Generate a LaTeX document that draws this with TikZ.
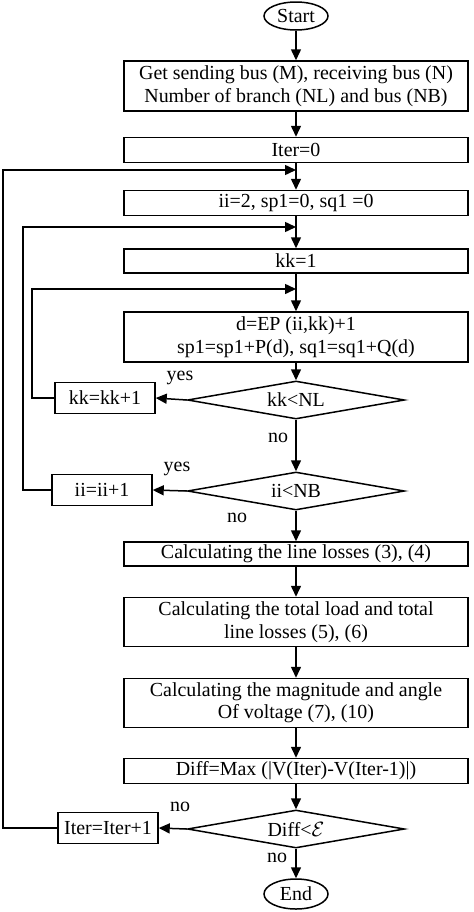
\documentclass[tikz,border=0pt]{standalone}
\usepackage{fontspec}
\setmainfont{Liberation Serif}
\usetikzlibrary{arrows.meta, shapes.geometric}

\begin{document}
\begin{tikzpicture}[x=1bp, y=-1bp, line width=1.5bp,
    font=\fontsize{20}{22.5}\selectfont,
    procbox/.style={draw, rectangle, minimum width=344bp, align=center, inner sep=0pt},
    smallbox/.style={draw, rectangle, minimum width=100bp, minimum height=31bp, inner sep=0pt},
    decision/.style={draw, diamond, aspect=6, minimum width=217bp, minimum height=38bp, inner sep=0pt},
    terminal/.style={draw, ellipse, minimum width=64bp, minimum height=28bp, inner sep=0pt},
    arr/.style={-{Triangle[length=11bp,width=10bp]}}]
    \useasboundingbox (0,0) rectangle (474,912);

    % Main column
    \node[terminal] (start) at (296,16) {Start};
    \node[procbox, minimum height=50bp] (read) at (296,86) {Get sending bus (M), receiving bus (N)\\Number of branch (NL) and bus (NB)};
    \node[procbox, minimum height=25bp] (iter0) at (296,150) {Iter=0};
    \node[procbox, minimum height=25bp] (init) at (296,203) {ii=2, sp1=0, sq1 =0};
    \node[procbox, minimum height=24bp] (kk1) at (296,261) {kk=1};
    \node[procbox, minimum height=50bp] (sum) at (296,337) {d=EP (ii,kk)+1\\sp1=sp1+P(d), sq1=sq1+Q(d)};
    \node[decision] (kkNL) at (296,400) {kk<NL};
    \node[decision] (iiNB) at (296,491) {ii<NB};
    \node[procbox, minimum height=24bp] (loss) at (296,554) {Calculating the line losses (3), (4)};
    \node[procbox, minimum height=49bp] (total) at (296,622) {Calculating the total load and total\\line losses (5), (6)};
    \node[procbox, minimum height=49bp] (volt) at (296,703) {Calculating the magnitude and angle\\Of voltage (7), (10)};
    \node[procbox, minimum height=25bp] (diff) at (296,771) {Diff=Max (|V(Iter)-V(Iter-1)|)};
    \node[decision] (conv) at (296,829) {Diff<$\mathcal{E}$};
    \node[terminal, minimum height=30bp] (stop) at (296,894) {End};

    % Side boxes
    \node[smallbox] (kkinc) at (105,398) {kk=kk+1};
    \node[smallbox] (iiinc) at (102,490) {ii=ii+1};
    \node[smallbox] (iterinc) at (108,828) {Iter=Iter+1};

    % Junctions and loop corners
    \coordinate (j1) at (296,170);
    \coordinate (j2) at (296,227);
    \coordinate (j3) at (296,289);
    \coordinate (outer) at (3,170);
    \coordinate (inner) at (23,227);
    \coordinate (kkloop) at (32,289);

    % Arrows down the column
    \draw[arr] (start.south) -- (read.north);
    \draw[arr] (read.south) -- (iter0.north);
    \draw (iter0.south) -- (j1);
    \draw[arr] (j1) -- (init.north);
    \draw (init.south) -- (j2);
    \draw[arr] (j2) -- (kk1.north);
    \draw (kk1.south) -- (j3);
    \draw[arr] (j3) -- (sum.north);
    \draw[arr] (sum.south) -- (kkNL.north);
    \draw[arr] (kkNL.south) -- (iiNB.north);
    \draw[arr] (iiNB.south) -- (loss.north);
    \draw[arr] (loss.south) -- (total.north);
    \draw[arr] (total.south) -- (volt.north);
    \draw[arr] (volt.south) -- (diff.north);
    \draw[arr] (diff.south) -- (conv.north);
    \draw[arr] (conv.south) -- (stop.north);

    % Branches and loops
    \draw[arr] (kkNL.west) -- (kkinc.east);
    \draw[arr] (iiNB.west) -- (iiinc.east);
    \draw[arr] (conv.west) -- (iterinc.east);
    \draw[arr] (kkinc.west) -| (kkloop) -- (j3);
    \draw[arr] (iiinc.west) -| (inner) -- (j2);
    \draw[arr] (iterinc.west) -| (outer) -- (j1);

    % Labels
    \node (yes1) at (180,378) {yes};
    \node (no1) at (278,438) {no};
    \node (yes2) at (177,469) {yes};
    \node (no2) at (237,518) {no};
    \node (no3) at (180,807) {no};
    \node (no4) at (277,858) {no};
\end{tikzpicture}
\end{document}
